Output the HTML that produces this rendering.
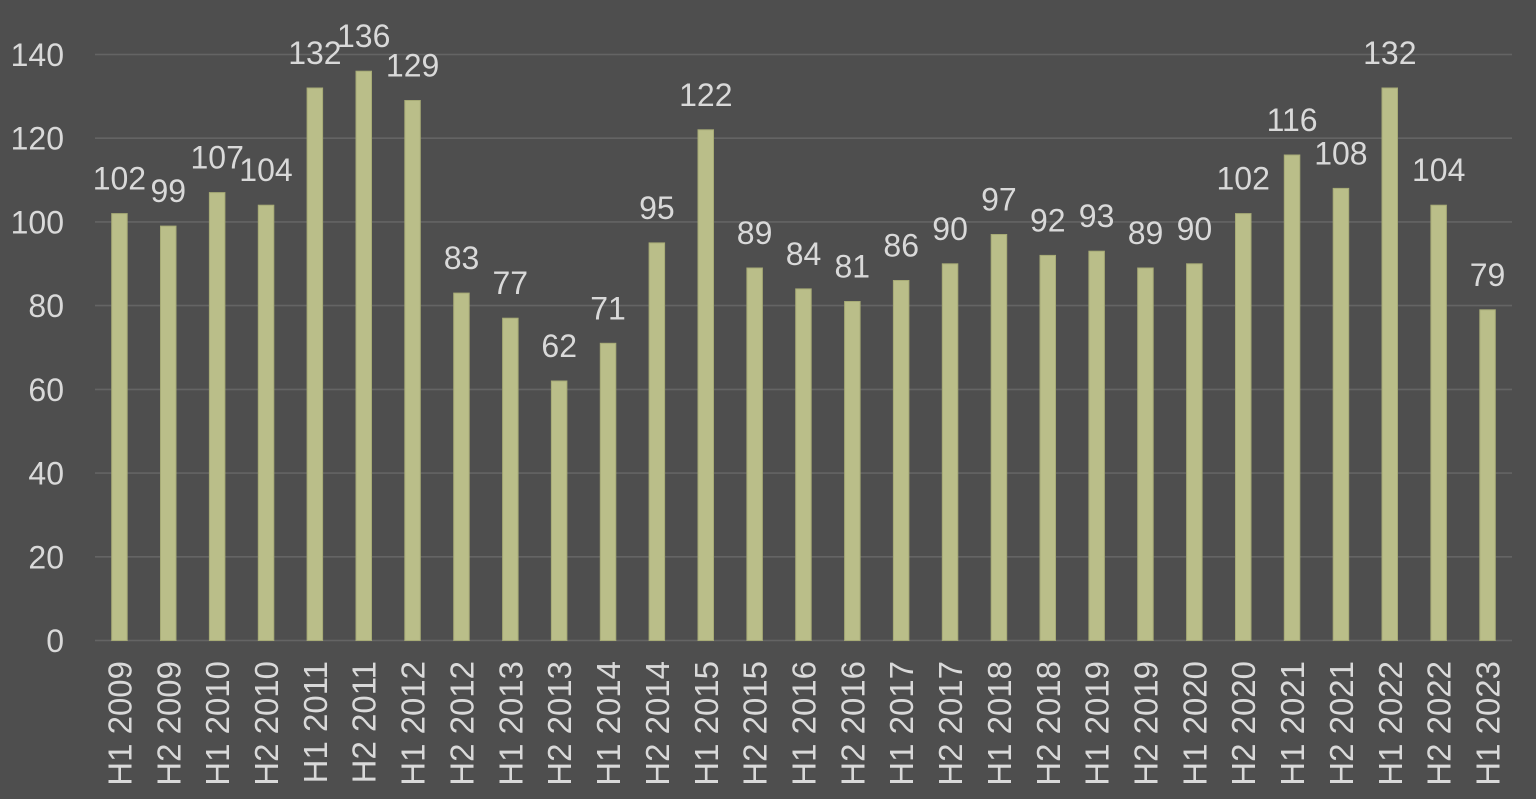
<!DOCTYPE html>
<html><head><meta charset="utf-8"><style>
html,body{margin:0;padding:0;background:#4e4e4e;}
svg{display:block;}
text{font-family:"Liberation Sans",Arial,sans-serif;fill:#d9d9d9;}
</style></head><body>
<svg width="1536" height="799" viewBox="0 0 1536 799" xmlns="http://www.w3.org/2000/svg">
<rect x="0" y="0" width="1536" height="799" fill="#4e4e4e"/>
<g stroke="#646464" stroke-width="1.6">
<line x1="95" x2="1512" y1="54.5" y2="54.5"/>
<line x1="95" x2="1512" y1="138.2" y2="138.2"/>
<line x1="95" x2="1512" y1="221.9" y2="221.9"/>
<line x1="95" x2="1512" y1="305.6" y2="305.6"/>
<line x1="95" x2="1512" y1="389.4" y2="389.4"/>
<line x1="95" x2="1512" y1="473.1" y2="473.1"/>
<line x1="95" x2="1512" y1="556.8" y2="556.8"/>
<line x1="95" x2="1512" y1="640.5" y2="640.5"/>
</g>
<g font-size="32" text-anchor="end">
<text x="64" y="66">140</text>
<text x="64" y="149.7">120</text>
<text x="64" y="233.4">100</text>
<text x="64" y="317.1">80</text>
<text x="64" y="400.9">60</text>
<text x="64" y="484.6">40</text>
<text x="64" y="568.3">20</text>
<text x="64" y="652">0</text>
</g>
<g fill="#babe89" stroke="#a7ab76" stroke-width="1">
<rect x="111.7" y="213.6" width="15.5" height="426.9"/>
<rect x="160.5" y="226.1" width="15.5" height="414.4"/>
<rect x="209.4" y="192.6" width="15.5" height="447.9"/>
<rect x="258.3" y="205.2" width="15.5" height="435.3"/>
<rect x="307.1" y="88.0" width="15.5" height="552.5"/>
<rect x="356.0" y="71.2" width="15.5" height="569.3"/>
<rect x="404.8" y="100.5" width="15.5" height="540.0"/>
<rect x="453.7" y="293.1" width="15.5" height="347.4"/>
<rect x="502.6" y="318.2" width="15.5" height="322.3"/>
<rect x="551.4" y="381.0" width="15.5" height="259.5"/>
<rect x="600.3" y="343.3" width="15.5" height="297.2"/>
<rect x="649.1" y="242.9" width="15.5" height="397.6"/>
<rect x="698.0" y="129.8" width="15.5" height="510.7"/>
<rect x="746.9" y="268.0" width="15.5" height="372.5"/>
<rect x="795.7" y="288.9" width="15.5" height="351.6"/>
<rect x="844.6" y="301.5" width="15.5" height="339.0"/>
<rect x="893.4" y="280.5" width="15.5" height="360.0"/>
<rect x="942.3" y="263.8" width="15.5" height="376.7"/>
<rect x="991.2" y="234.5" width="15.5" height="406.0"/>
<rect x="1040.0" y="255.4" width="15.5" height="385.1"/>
<rect x="1088.9" y="251.2" width="15.5" height="389.3"/>
<rect x="1137.7" y="268.0" width="15.5" height="372.5"/>
<rect x="1186.6" y="263.8" width="15.5" height="376.7"/>
<rect x="1235.5" y="213.6" width="15.5" height="426.9"/>
<rect x="1284.3" y="155.0" width="15.5" height="485.5"/>
<rect x="1333.2" y="188.4" width="15.5" height="452.1"/>
<rect x="1382.0" y="88.0" width="15.5" height="552.5"/>
<rect x="1430.9" y="205.2" width="15.5" height="435.3"/>
<rect x="1479.8" y="309.8" width="15.5" height="330.7"/>
</g>
<g font-size="32" text-anchor="middle">
<text x="119.4" y="189.6">102</text>
<text x="168.3" y="202.1">99</text>
<text x="217.2" y="168.6">107</text>
<text x="266.0" y="181.2">104</text>
<text x="314.9" y="64.0">132</text>
<text x="363.7" y="47.2">136</text>
<text x="412.6" y="76.5">129</text>
<text x="461.5" y="269.1">83</text>
<text x="510.3" y="294.2">77</text>
<text x="559.2" y="357.0">62</text>
<text x="608.0" y="319.3">71</text>
<text x="656.9" y="218.9">95</text>
<text x="705.8" y="105.8">122</text>
<text x="754.6" y="244.0">89</text>
<text x="803.5" y="264.9">84</text>
<text x="852.3" y="277.5">81</text>
<text x="901.2" y="256.5">86</text>
<text x="950.1" y="239.8">90</text>
<text x="998.9" y="210.5">97</text>
<text x="1047.8" y="231.4">92</text>
<text x="1096.6" y="227.2">93</text>
<text x="1145.5" y="244.0">89</text>
<text x="1194.4" y="239.8">90</text>
<text x="1243.2" y="189.6">102</text>
<text x="1292.1" y="131.0">116</text>
<text x="1340.9" y="164.4">108</text>
<text x="1389.8" y="64.0">132</text>
<text x="1438.7" y="181.2">104</text>
<text x="1487.5" y="285.8">79</text>
</g>
<g font-size="33" text-anchor="end">
<text transform="translate(131.4,661) rotate(-90)">H1 2009</text>
<text transform="translate(180.3,661) rotate(-90)">H2 2009</text>
<text transform="translate(229.2,661) rotate(-90)">H1 2010</text>
<text transform="translate(278.0,661) rotate(-90)">H2 2010</text>
<text transform="translate(326.9,661) rotate(-90)">H1 2011</text>
<text transform="translate(375.7,661) rotate(-90)">H2 2011</text>
<text transform="translate(424.6,661) rotate(-90)">H1 2012</text>
<text transform="translate(473.5,661) rotate(-90)">H2 2012</text>
<text transform="translate(522.3,661) rotate(-90)">H1 2013</text>
<text transform="translate(571.2,661) rotate(-90)">H2 2013</text>
<text transform="translate(620.0,661) rotate(-90)">H1 2014</text>
<text transform="translate(668.9,661) rotate(-90)">H2 2014</text>
<text transform="translate(717.8,661) rotate(-90)">H1 2015</text>
<text transform="translate(766.6,661) rotate(-90)">H2 2015</text>
<text transform="translate(815.5,661) rotate(-90)">H1 2016</text>
<text transform="translate(864.3,661) rotate(-90)">H2 2016</text>
<text transform="translate(913.2,661) rotate(-90)">H1 2017</text>
<text transform="translate(962.1,661) rotate(-90)">H2 2017</text>
<text transform="translate(1010.9,661) rotate(-90)">H1 2018</text>
<text transform="translate(1059.8,661) rotate(-90)">H2 2018</text>
<text transform="translate(1108.6,661) rotate(-90)">H1 2019</text>
<text transform="translate(1157.5,661) rotate(-90)">H2 2019</text>
<text transform="translate(1206.4,661) rotate(-90)">H1 2020</text>
<text transform="translate(1255.2,661) rotate(-90)">H2 2020</text>
<text transform="translate(1304.1,661) rotate(-90)">H1 2021</text>
<text transform="translate(1352.9,661) rotate(-90)">H2 2021</text>
<text transform="translate(1401.8,661) rotate(-90)">H1 2022</text>
<text transform="translate(1450.7,661) rotate(-90)">H2 2022</text>
<text transform="translate(1499.5,661) rotate(-90)">H1 2023</text>
</g>
</svg>
</body></html>
